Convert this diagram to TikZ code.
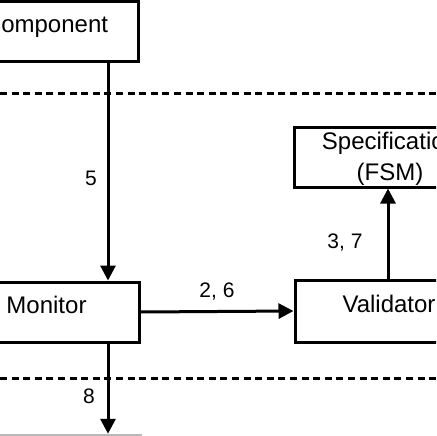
\documentclass[tikz,border=0pt]{standalone}
\usepackage{fontspec}
\setmainfont{Liberation Sans}
\usetikzlibrary{arrows.meta}
\definecolor{lightedge}{RGB}{185,185,185}
\begin{document}
\begin{tikzpicture}[x=1pt,y=-1pt,
  box/.style={draw=black, line width=3pt, rectangle, inner sep=0pt},
  boxtext/.style={font=\fontsize{24}{31}\selectfont, inner sep=0pt, align=center, anchor=base},
  lbl/.style={font=\fontsize{21}{25}\selectfont, inner sep=0pt, anchor=base},
  conn/.style={line width=3pt, -{Triangle[length=15pt,width=15pt]}},
  sep/.style={line width=3pt, dash pattern=on 7pt off 4.6pt}]
\useasboundingbox (0,0) rectangle (436,436);
\clip (0,0) rectangle (436,436);
% boxes
\node[box, minimum width=184pt, minimum height=60pt] (comp) at (46,32) {};
\node[box, minimum width=185pt, minimum height=60pt] (mon) at (46.5,312) {};
\node[box, minimum width=190pt, minimum height=62pt] (val) at (390,311) {};
\node[box, minimum width=192pt, minimum height=60pt] (spec) at (390,157) {};
\node[box, draw=lightedge, line width=2.5pt, minimum width=187pt, minimum height=90pt] (low) at (47.5,480) {};
% box texts
\node[boxtext] (comptext) at (46,33) {Component};
\node[boxtext] (montext) at (46.5,313) {Monitor};
\node[boxtext] (valtext) at (389,312) {Validator};
\node[boxtext] (spectext) at (390,180) {Specification\\(FSM)};
% separators
\draw[sep] (0,93) -- (436,93);
\draw[sep] (0,378) -- (436,378);
% connectors
\draw[conn] ([xshift=62pt]comp.south) -- ([xshift=61.5pt]mon.north);
\draw[conn] (mon.east) -- (val.west);
\draw[conn] ([xshift=-2pt]val.north) -- ([xshift=-2pt]spec.south);
\draw[conn] ([xshift=61.5pt]mon.south) -- ([xshift=60.5pt]low.north);
% labels
\node[lbl] (l5) at (91,185) {5};
\node[lbl] (l26) at (217,297) {2, 6};
\node[lbl] (l37) at (345,248) {3, 7};
\node[lbl] (l8) at (89,403) {8};
\end{tikzpicture}
\end{document}
